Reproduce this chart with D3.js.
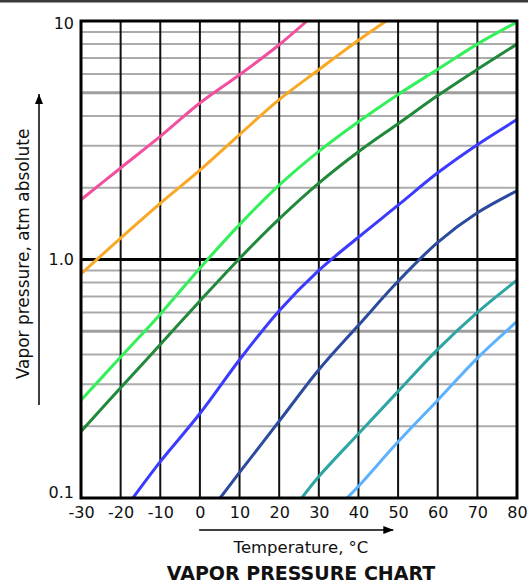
<!DOCTYPE html>
<html>
<head>
<meta charset="utf-8">
<script src="https://cdn.jsdelivr.net/npm/d3@7"></script>
<style>
    body { margin: 0; background: #fff; }
    svg { display: block; }
</style>
</head>
<body>
<div id="container"><svg></svg></div>
<script>
let width = 528;
let height = 584;
let fontFamily = "DejaVu Sans";

// temperature ticks, deg C
let temp_ticks = [-30, -20, -10, 0, 10, 20, 30, 40, 50, 60, 70, 80];
// pressure labels, atm
let p_ticks = [0.1, 1, 10];
let p_labels = ['0.1', '1.0', '10'];
let p_minor = [0.2, 0.3, 0.4, 0.5, 0.6, 0.7, 0.8, 0.9, 2, 3, 4, 5, 6, 7, 8, 9];

// curves: [temperature, pressure]
let curve_pink = [[-30, 1.78], [-20, 2.42], [-10, 3.28], [0, 4.53], [10, 5.95], [20, 7.95], [27, 10]];
let curve_orange = [[-30, 0.87], [-20, 1.23], [-10, 1.72], [0, 2.37], [10, 3.34], [20, 4.68], [30, 6.25], [40, 8.3], [47, 10]];
let curve_lightgreen = [[-30, 0.257], [-20, 0.39], [-10, 0.59], [0, 0.92], [10, 1.40], [20, 2.05], [30, 2.84], [40, 3.78], [50, 4.92], [60, 6.27], [70, 8.0], [80, 9.9]];
let curve_darkgreen = [[-30, 0.19], [-20, 0.29], [-10, 0.44], [0, 0.67], [10, 1.01], [20, 1.48], [30, 2.09], [40, 2.83], [50, 3.71], [60, 4.87], [70, 6.27], [80, 8.0]];
let curve_blue = [[-16.9, 0.1], [-10, 0.142], [0, 0.226], [10, 0.38], [20, 0.61], [30, 0.90], [40, 1.24], [50, 1.69], [60, 2.31], [70, 3.03], [80, 3.86]];
let curve_navy = [[5.1, 0.1], [10, 0.128], [20, 0.21], [30, 0.345], [40, 0.53], [50, 0.81], [60, 1.18], [70, 1.57], [80, 1.94]];
let curve_teal = [[25.7, 0.1], [30, 0.123], [40, 0.186], [50, 0.28], [60, 0.42], [70, 0.60], [80, 0.82]];
let curve_lightblue = [[37.1, 0.1], [40, 0.112], [50, 0.172], [60, 0.257], [70, 0.386], [80, 0.55]];

let curves = [curve_pink, curve_orange, curve_lightgreen, curve_darkgreen, curve_blue, curve_navy, curve_teal, curve_lightblue];
let curve_colors = ['#f24f9e', '#f9a823', '#33f05a', '#20893a', '#3b3bff', '#2c4b9e', '#2ca5a3', '#5cb2ff'];

function draw_main() {
    let padding = {'left': 81, 'right': width - 517, 'top': 21, 'bottom': height - 498};
    let svg = d3.select('#container')
        .select('svg')
        .attr('width', width)
        .attr('height', height)
        .style('font-family', fontFamily);

    svg.append('rect')
        .attr('width', width)
        .attr('height', height)
        .attr('fill', '#fff');

    // dark strip on top edge
    svg.append('rect')
        .attr('width', width)
        .attr('height', 2.5)
        .attr('fill', '#3b3a36');

    let x = d3.scaleLinear()
        .domain([-30, 80])
        .range([padding.left, width - padding.right]);
    let y = d3.scaleLog()
        .domain([0.1, 10])
        .range([height - padding.bottom, padding.top]);

    // horizontal grid
    svg.append('g')
        .selectAll('line')
        .data(p_minor)
        .enter().append('line')
        .attr('x1', x(-30))
        .attr('x2', x(80))
        .attr('y1', d => y(d))
        .attr('y2', d => y(d))
        .attr('stroke', d => (d == 5 || d == 0.5) ? '#9e9e9e' : '#ababab')
        .attr('stroke-width', d => (d == 5 || d == 0.5) ? 3 : 2);

    // vertical grid
    svg.append('g')
        .selectAll('line')
        .data(temp_ticks.slice(1, -1))
        .enter().append('line')
        .attr('x1', d => x(d))
        .attr('x2', d => x(d))
        .attr('y1', y(10))
        .attr('y2', y(0.1))
        .attr('stroke', '#111')
        .attr('stroke-width', 2);

    // 1.0 line
    svg.append('line')
        .attr('x1', x(-30))
        .attr('x2', x(80))
        .attr('y1', y(1))
        .attr('y2', y(1))
        .attr('stroke', '#000')
        .attr('stroke-width', 3);

    // curves
    svg.append('clipPath')
        .attr('id', 'plot_clip')
        .append('rect')
        .attr('x', x(-30))
        .attr('y', y(10))
        .attr('width', x(80) - x(-30))
        .attr('height', y(0.1) - y(10));

    let line = d3.line()
        .x(d => x(d[0]))
        .y(d => y(d[1]))
        .curve(d3.curveCatmullRom.alpha(0.5));

    svg.append('g')
        .attr('clip-path', 'url(#plot_clip)')
        .selectAll('path')
        .data(curves)
        .enter().append('path')
        .attr('d', d => line(d))
        .attr('fill', 'none')
        .attr('stroke', (d, i) => curve_colors[i])
        .attr('stroke-width', 3)
        .attr('stroke-linecap', 'round');

    // frame
    svg.append('rect')
        .attr('x', x(-30))
        .attr('y', y(10))
        .attr('width', x(80) - x(-30))
        .attr('height', y(0.1) - y(10))
        .attr('fill', 'none')
        .attr('stroke', '#000')
        .attr('stroke-width', 3);

    // x axis labels
    let axis_x = d3.axisBottom()
        .scale(x)
        .tickValues(temp_ticks)
        .tickSize(0)
        .tickPadding(9)
        .tickFormat(d => d);
    svg.append('g')
        .attr('transform', `translate(0, ${y(0.1)})`)
        .call(axis_x)
        .call(g => g.select('.domain').remove())
        .attr('font-family', fontFamily)
        .attr('font-size', '16px')
        .selectAll('text')
        .attr('fill', '#111');

    // y axis labels
    let axis_y = d3.axisLeft()
        .scale(y)
        .tickValues(p_ticks)
        .tickSize(0)
        .tickPadding(7)
        .tickFormat((d, i) => p_labels[i]);
    svg.append('g')
        .attr('transform', `translate(${x(-30)}, 0)`)
        .call(axis_y)
        .call(g => g.select('.domain').remove())
        .attr('font-family', fontFamily)
        .attr('font-size', '16px')
        .selectAll('text')
        .attr('fill', '#111')
        .attr('dy', d => d == 10 ? '0.45em' : (d == 0.1 ? '-0.05em' : '0.3em'));

    // arrows
    svg.append('defs')
        .append('marker')
        .attr('id', 'arrow')
        .attr('viewBox', '0 0 10 8')
        .attr('refX', 10)
        .attr('refY', 4)
        .attr('markerWidth', 10)
        .attr('markerHeight', 8)
        .attr('markerUnits', 'userSpaceOnUse')
        .attr('orient', 'auto')
        .append('path')
        .attr('d', 'M0,0 L10,4 L0,8 Z')
        .attr('fill', '#000');

    svg.append('line')
        .attr('x1', x(-0.2))
        .attr('x2', x(48.8))
        .attr('y1', 530)
        .attr('y2', 530)
        .attr('stroke', '#000')
        .attr('stroke-width', 1.5)
        .attr('marker-end', 'url(#arrow)');

    svg.append('line')
        .attr('x1', 39)
        .attr('x2', 39)
        .attr('y1', 405)
        .attr('y2', 94)
        .attr('stroke', '#000')
        .attr('stroke-width', 1.5)
        .attr('marker-end', 'url(#arrow)');

    // axis titles
    svg.append('text')
        .attr('x', 301)
        .attr('y', 553)
        .attr('text-anchor', 'middle')
        .attr('font-size', '16.5px')
        .attr('fill', '#111')
        .text('Temperature, °C');

    svg.append('g')
        .attr('transform', `translate(29, 254) rotate(-90)`)
        .append('text')
        .attr('text-anchor', 'middle')
        .attr('font-size', '17px')
        .attr('fill', '#111')
        .text('Vapor pressure, atm absolute');

    // title
    svg.append('text')
        .attr('x', 301)
        .attr('y', 580)
        .attr('text-anchor', 'middle')
        .attr('font-size', '19px')
        .attr('font-weight', 'bold')
        .attr('fill', '#111')
        .text('VAPOR PRESSURE CHART');
}

draw_main();
</script>
</body>
</html>
